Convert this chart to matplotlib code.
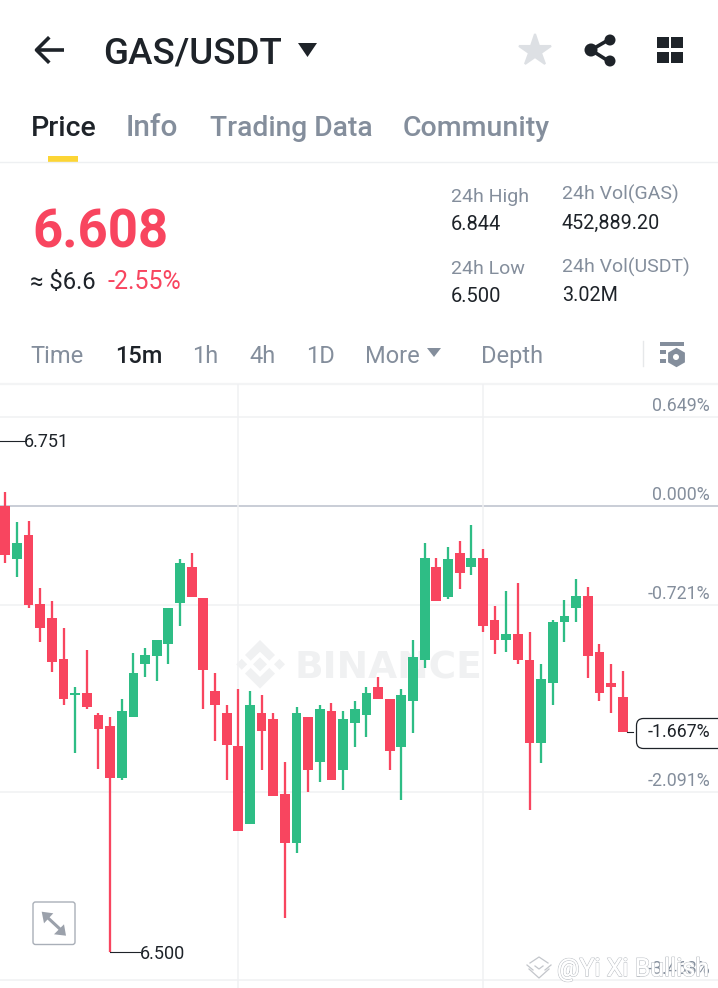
import matplotlib
matplotlib.use("Agg")
import matplotlib.pyplot as plt
import matplotlib.patheffects as pe
from matplotlib.patches import FancyBboxPatch, Polygon, Circle, Rectangle

# 15m candles
opens = [6.7189, 6.6932, 6.7048, 6.6711, 6.6640, 6.6441, 6.6264, 6.6271, 6.6162, 6.6112,
         6.5856, 6.6154, 6.6413, 6.6454, 6.6513, 6.6712, 6.6888, 6.6740, 6.6280, 6.6172,
         6.6013, 6.5626, 6.6172, 6.6142, 6.5774, 6.5536, 6.6152, 6.5934, 6.6181, 6.5895,
         6.6124, 6.6163, 6.6301, 6.6240, 6.6005, 6.6234, 6.6432, 6.6888, 6.6741, 6.6957,
         6.6892, 6.6937, 6.6630, 6.6532, 6.6561, 6.6432, 6.6024, 6.6322, 6.6622, 6.6690,
         6.6749, 6.6471, 6.6322, 6.6252]
highs = [6.7259, 6.7109, 6.7118, 6.6789, 6.6721, 6.6590, 6.6300, 6.6482, 6.6172, 6.6153,
         6.6241, 6.6470, 6.6491, 6.6531, 6.6690, 6.6928, 6.6958, 6.6740, 6.6372, 6.6212,
         6.6291, 6.6281, 6.6260, 6.6172, 6.5933, 6.6201, 6.6152, 6.6211, 6.6221, 6.6181,
         6.6230, 6.6299, 6.6350, 6.6240, 6.6289, 6.6530, 6.7008, 6.6937, 6.6988, 6.7018,
         6.7098, 6.6977, 6.6699, 6.6771, 6.6810, 6.6571, 6.6412, 6.6630, 6.6730, 6.6829,
         6.6790, 6.6512, 6.6412, 6.6381]
lows = [6.6912, 6.6842, 6.6691, 6.6523, 6.6374, 6.6215, 6.5976, 6.6195, 6.5896, 6.5000,
        6.5845, 6.6154, 6.6352, 6.6333, 6.6413, 6.6603, 6.6742, 6.6195, 6.6035, 6.5845,
        6.5596, 6.5626, 6.5895, 6.5766, 6.5168, 6.5487, 6.5785, 6.5834, 6.5846, 6.5795,
        6.6005, 6.6055, 6.6244, 6.5895, 6.5746, 6.6073, 6.6392, 6.6721, 6.6731, 6.6780,
        6.6851, 6.6573, 6.6463, 6.6473, 6.6414, 6.5697, 6.5926, 6.6214, 6.6522, 6.6622,
        6.6343, 6.6234, 6.6175, 6.6080]
closes = [6.6951, 6.7009, 6.6703, 6.6593, 6.6423, 6.6244, 6.6272, 6.6205, 6.6095, 6.5856,
          6.6182, 6.6372, 6.6460, 6.6531, 6.6690, 6.6909, 6.6742, 6.6383, 6.6215, 6.6015,
          6.5596, 6.6212, 6.6085, 6.5766, 6.5536, 6.6172, 6.5895, 6.6191, 6.5846, 6.6142,
          6.6191, 6.6270, 6.6244, 6.5985, 6.6260, 6.6450, 6.6937, 6.6721, 6.6928, 6.6862,
          6.6937, 6.6602, 6.6532, 6.6561, 6.6432, 6.6024, 6.6340, 6.6620, 6.6649, 6.6749,
          6.6453, 6.6273, 6.6302, 6.6080]

base_price = 6.719
pct_levels = [0.649, 0.0, -0.721, -2.091, -3.463]
pct_labels = ["0.649%", "0.000%", "-0.721%", "-2.091%", "-3.463%"]
max_seen = 6.751
min_seen = 6.500
last_price = 6.608
last_label = "-1.667%"
time_grid = [20, 41]

RED = "#F8455F"
GREEN = "#2EBD85"
DARK = "#1E2329"
GRAY = "#848E9C"
MARK = "#F0F1F2"
FONT = "Roboto"
plt.rcParams["font.family"] = [FONT, "DejaVu Sans"]

W, H = 718, 988
fig = plt.figure(figsize=(W / 100, H / 100), dpi=100)
ui = fig.add_axes([0, 0, 1, 1], zorder=0)
ui.set_xlim(0, W)
ui.set_ylim(H, 0)
ui.axis("off")


def txt(x, y, s, size, color=DARK, weight="normal", ha="left", axes=None, **kw):
    return (axes or ui).text(x, y, s, fontsize=size, color=color, fontweight=weight, ha=ha,
                             va="baseline", transform=ui.transData, **kw)


# header
ui.plot([36, 64], [50, 50], color=DARK, lw=2.6, solid_capstyle="butt")
ui.plot([48, 36.5, 48], [38.5, 50, 61.5], color=DARK, lw=2.6)
txt(103, 64, "GAS/USDT", 26.5, DARK, "medium")
ui.add_patch(Polygon([[298, 43], [317, 43], [307.5, 57]], color=DARK, lw=0))
ui.plot([535], [51], marker="*", ms=24, color="#DDE0E4", mec="#DDE0E4", mew=1.5)
ui.plot([610, 591, 610], [39, 50, 62], color=DARK, lw=2.6)
for cx, cy, r in [(610, 40, 5.5), (591, 50, 6.5), (610, 61, 5.5)]:
    ui.add_patch(Circle((cx, cy), r, color=DARK, lw=0))
for gx, gy in [(657, 37), (671, 37), (657, 52), (671, 52)]:
    ui.add_patch(Rectangle((gx, gy), 11.5, 11.5, color=DARK, lw=0))

# tabs
txt(31, 136, "Price", 20.5, DARK, "medium")
txt(126, 136, "Info", 21.5, GRAY, "medium")
txt(210, 136, "Trading Data", 20.3, GRAY, "medium")
txt(403, 136, "Community", 20.5, GRAY, "medium")
ui.add_patch(Rectangle((48, 156), 30, 6, color="#FCD535", lw=0))
ui.plot([0, W], [162.5, 162.5], color="#EEF0F2", lw=1)

# price block
txt(32, 247, "6.608", 38, RED, "bold")
txt(30, 289, "≈ $6.6", 17.2, DARK)
txt(107, 289, "-2.55%", 18, RED)
txt(451, 202, "24h High", 14, GRAY)
txt(451, 230, "6.844", 14.5, DARK)
txt(562, 200, "24h Vol(GAS)", 14, GRAY)
txt(562, 229, "452,889.20", 14.2, DARK)
txt(451, 274, "24h Low", 14, GRAY)
txt(451, 302, "6.500", 14.5, DARK)
txt(562, 273, "24h Vol(USDT)", 14, GRAY)
txt(562, 301, "3.02M", 14.2, DARK)

# interval row
txt(30, 363, "Time", 17, GRAY)
txt(115, 363, "15m", 17, DARK, "medium")
txt(192, 363, "1h", 17, GRAY)
txt(249, 363, "4h", 17, GRAY)
txt(306, 363, "1D", 17, GRAY)
txt(365, 363, "More", 17, GRAY)
ui.add_patch(Polygon([[427, 348], [441, 348], [434, 357]], color=GRAY, lw=0))
txt(481, 363, "Depth", 17, GRAY)
ui.plot([643, 643], [341, 366], color="#E6E8EA", lw=1)
ui.add_patch(Rectangle((660, 342), 24, 3.5, color=GRAY, lw=0))
ui.add_patch(Rectangle((660, 350), 6, 3.5, color=GRAY, lw=0))
ui.add_patch(Rectangle((660, 359), 6, 3.5, color=GRAY, lw=0))
ui.plot([676], [357], marker="h", ms=14, color=GRAY, mew=0)
ui.add_patch(Circle((676, 357), 3, color="white", lw=0, zorder=3))
ui.plot([0, W], [384, 384], color="#F3F4F5", lw=1.6)

# background logo
ui.add_patch(Polygon([[260, 640], [275, 655], [269.3, 660.7], [260, 651.7], [250.7, 660.7], [245, 655]],
                     color=MARK, lw=0))
ui.add_patch(Polygon([[260, 688.6], [275, 673.6], [269.3, 667.9], [260, 677], [250.7, 667.9], [245, 673.6]],
                     color=MARK, lw=0))
for cx, r in [(241.7, 5.5), (260, 7), (279.5, 5.5)]:
    ui.add_patch(Polygon([[cx - r, 664.3], [cx, 664.3 - r], [cx + r, 664.3], [cx, 664.3 + r]], color=MARK, lw=0))
ui.text(295, 678, "BINANCE", fontsize=27, color=MARK, fontweight="bold", family="DejaVu Sans", va="baseline")

# expand button
ui.add_patch(FancyBboxPatch((33, 902), 42, 42.5, boxstyle="round,pad=0,rounding_size=2.5",
                            fc="white", ec="#A9AFB8", lw=1))
ui.add_patch(Polygon([[41.7, 911.7], [53.3, 913.3], [44, 923.3]], color="#9BA1AB", lw=0))
ui.add_patch(Polygon([[66, 935.7], [54, 934.3], [64, 924.3]], color="#9BA1AB", lw=0))
ui.plot([47, 61], [917, 930], color="#9BA1AB", lw=2.2)

# candle chart, on a transparent axes over the page
top_px, bottom_px = 384, 988
ax = fig.add_axes([0, 1 - bottom_px / H, 1, (bottom_px - top_px) / H], zorder=1)
ax.patch.set_alpha(0)
ax.set_xlim(-0.455, 61.18)
ax.set_ylim(6.4823, 6.7789)
ax.set_xticks([])
ax.set_yticks([])
for sp in ax.spines.values():
    sp.set_visible(False)

for lvl, lab in zip(pct_levels, pct_labels):
    price = base_price * (1 + lvl / 100)
    col = "#C9CDD6" if lvl == 0 else "#F0F1F3"
    ax.axhline(price, color=col, lw=1.4 if lvl == 0 else 1.1, zorder=1)
    ax.annotate(lab, xy=(1, price), xycoords=ax.get_yaxis_transform(), xytext=(-5.8, 4.2),
                textcoords="offset points", ha="right", va="baseline", fontsize=12.8, color=GRAY, zorder=5)
for t in time_grid:
    ax.axvline(t + 0.0, color="#F0F1F3", lw=1.1, zorder=1)

for i in range(len(opens)):
    col = GREEN if closes[i] >= opens[i] else RED
    ax.vlines(i, lows[i], highs[i], color=col, lw=1.65, zorder=3)
    ax.bar(i, abs(closes[i] - opens[i]), bottom=min(opens[i], closes[i]), width=0.84, color=col, zorder=4)

# extreme labels
ax.plot([-0.455, 1.6], [max_seen, max_seen], color=DARK, lw=0.8, zorder=5)
ax.annotate(f"{max_seen:.3f}", xy=(1.6, max_seen), xytext=(0, -1.2), textcoords="offset points",
            va="center", fontsize=13, color=DARK, zorder=5)
ax.plot([9, 11.55], [min_seen, min_seen], color=DARK, lw=0.8, zorder=5)
ax.annotate(f"{min_seen:.3f}", xy=(11.55, min_seen), xytext=(0, -1.2), textcoords="offset points",
            va="center", fontsize=13, color=DARK, zorder=5)

# last price pill
ax.plot([53.4, 53.85], [last_price, last_price], color=DARK, lw=0.8, zorder=5)
ui_pill = FancyBboxPatch((636.5, 718.5), 90, 30, boxstyle="round,pad=0,rounding_size=7",
                         fc="white", ec=DARK, lw=0.9, transform=ui.transData, zorder=6)
ax.add_patch(ui_pill)
ax.annotate(last_label, xy=(1, last_price), xycoords=ax.get_yaxis_transform(), xytext=(-5.8, 0),
            textcoords="offset points", ha="right", va="center", fontsize=12.8, color=DARK, zorder=7)

# repost stamp over the bottom corner
stamp = txt(557, 976, "@Yi Xi Bullish", 18, "white", axes=ax, zorder=8)
stamp.set_path_effects([pe.withStroke(linewidth=1.0, foreground="#BFC3C8"), pe.Normal()])
for xs, ys in [([530, 539, 548], [963, 957, 963]), ([527, 533], [965, 970]), ([551, 545], [965, 970]),
               ([535, 539, 543], [966, 969, 966]), ([529, 539, 549], [969, 978, 969])]:
    ax.plot(xs, ys, color="#C3C6CB", lw=0.9, transform=ui.transData, zorder=8)

fig.savefig("out.png", dpi=100)
